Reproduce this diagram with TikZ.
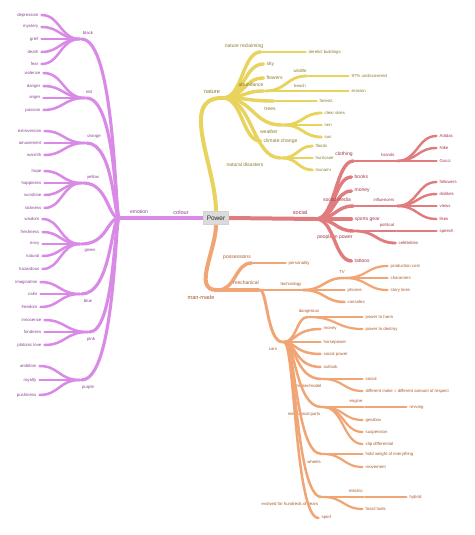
\documentclass[tikz,border=0pt]{standalone}
\usepackage{fontspec}
\setmainfont{Liberation Sans}
\usepackage{tikz}
\usetikzlibrary{calc}
\usepackage{xcolor}
\definecolor{emocol}{HTML}{D98AE6}
\definecolor{emotxt}{HTML}{8A4096}
\definecolor{natcol}{HTML}{E8D35C}
\definecolor{nattxt}{HTML}{8C7B2C}
\definecolor{soccol}{HTML}{E07C7E}
\definecolor{soctxt}{HTML}{A33A4A}
\definecolor{mancol}{HTML}{F1A574}
\definecolor{mantxt}{HTML}{A85B2E}

\begin{document}
\begin{tikzpicture}[x=1pt,y=-1pt,line cap=round,
  br/.style={to path={let \p1=(\tikztostart),\p2=(\tikztotarget) in
    .. controls ({\x1+#1*(\x2-\x1)},\y1) and ({\x1+#1*(\x2-\x1)},\y2) .. (\tikztotarget)}},
  br/.default=0.5,
  emoline/.style={draw=emocol,line width=#1,shorten >=1.5pt},
  natline/.style={draw=natcol,line width=#1,shorten >=1.5pt},
  socline/.style={draw=soccol,line width=#1,shorten >=1.5pt},
  manline/.style={draw=mancol,line width=#1,shorten >=1.5pt},
  etx/.style={text=emotxt}, ntx/.style={text=nattxt},
  stx/.style={text=soctxt}, mtx/.style={text=mantxt},
  toptxt/.style={inner sep=0.5pt,font=\fontsize{5.6}{6}\selectfont},
  bigtxt/.style={inner sep=0.5pt,font=\fontsize{5}{6}\selectfont},
  smtxt/.style={inner sep=0.5pt,font=\fontsize{4.3}{5}\selectfont},
  lfL/.style={anchor=east,inner sep=1.5pt},
  lfR/.style={anchor=west,inner sep=1.5pt}]
\path[fill=white,use as bounding box] (0,0) rectangle (474,535);

% root
\node[draw=gray!35,fill=gray!28,text=gray!30!black,font=\fontsize{6.5}{7}\selectfont,
  minimum width=25pt,minimum height=13pt,inner sep=1pt] (power) at (216,218) {Power};

% ---- colour / emotion
\coordinate (col) at (172,218);
\coordinate (emo) at (119,218);
\draw[emoline=4pt] (power.west) -- (col);
\draw[emoline=3.6pt] (col) -- (emo);
\node[toptxt,etx] (colourl) at (181,212) {colour};
\node[bigtxt,etx] (emotionl) at (139,212) {emotion};

\coordinate (blk) at (80,39);
\draw[emoline=3.1pt] (emo) to[br=0.1] (blk);
\node[smtxt,etx] (blkl) at (88,33) {black};
\node[smtxt,etx,lfL] (depression) at (40,15) {depression};
\node[smtxt,etx,lfL] (mystery) at (40,27) {mystery};
\node[smtxt,etx,lfL] (grief) at (40,39) {grief};
\node[smtxt,etx,lfL] (death) at (40,52) {death};
\node[smtxt,etx,lfL] (fear) at (40,64) {fear};
\draw[emoline=2.5pt] (blk) to[br] (depression.east);
\draw[emoline=2.5pt] (blk) to[br] (mystery.east);
\draw[emoline=2.5pt] (blk) -- (grief.east);
\draw[emoline=2.5pt] (blk) to[br] (death.east);
\draw[emoline=2.5pt] (blk) to[br] (fear.east);

\coordinate (rd) at (85,98);
\draw[emoline=3.1pt] (emo) to[br=0.1] (rd);
\node[smtxt,etx] (rdl) at (89,92) {red};
\node[smtxt,etx,lfL] (violence) at (42,73) {violence};
\node[smtxt,etx,lfL] (danger) at (42,86) {danger};
\node[smtxt,etx,lfL] (anger) at (42,98) {anger};
\node[smtxt,etx,lfL] (passion) at (42,110) {passion};
\draw[emoline=2.5pt] (rd) to[br] (violence.east);
\draw[emoline=2.5pt] (rd) to[br] (danger.east);
\draw[emoline=2.5pt] (rd) -- (anger.east);
\draw[emoline=2.5pt] (rd) to[br] (passion.east);

\coordinate (org) at (85,143);
\draw[emoline=3.1pt] (emo) to[br=0.15] (org);
\node[smtxt,etx] (orgl) at (94,137) {orange};
\node[smtxt,etx,lfL] (extroversion) at (43,131) {extroversion};
\node[smtxt,etx,lfL] (amusement) at (43,143) {amusement};
\node[smtxt,etx,lfL] (warmth) at (43,155) {warmth};
\draw[emoline=2.5pt] (org) to[br] (extroversion.east);
\draw[emoline=2.5pt] (org) -- (amusement.east);
\draw[emoline=2.5pt] (org) to[br] (warmth.east);

\coordinate (ylw) at (82,183);
\draw[emoline=3.1pt] (emo) to[br=0.3] (ylw);
\node[smtxt,etx] (ylwl) at (93,177) {yellow};
\node[smtxt,etx,lfL] (hope) at (43,171) {hope};
\node[smtxt,etx,lfL] (happiness) at (43,183) {happiness};
\node[smtxt,etx,lfL] (sunshine) at (43,195) {sunshine};
\node[smtxt,etx,lfL] (sickness) at (43,208) {sickness};
\draw[emoline=2.5pt] (ylw) to[br] (hope.east);
\draw[emoline=2.5pt] (ylw) -- (happiness.east);
\draw[emoline=2.5pt] (ylw) to[br] (sunshine.east);
\draw[emoline=2.5pt] (ylw) to[br] (sickness.east);

\coordinate (grn) at (80,244);
\draw[emoline=3.1pt] (emo) to[br=0.3] (grn);
\node[smtxt,etx] (grnl) at (90,251) {green};
\node[smtxt,etx,lfL] (wisdom) at (41,219) {wisdom};
\node[smtxt,etx,lfL] (freshness) at (41,232) {freshness};
\node[smtxt,etx,lfL] (envy) at (41,244) {envy};
\node[smtxt,etx,lfL] (natural) at (41,256) {natural};
\node[smtxt,etx,lfL] (hazardous) at (41,269) {hazardous};
\draw[emoline=2.5pt] (grn) to[br] (wisdom.east);
\draw[emoline=2.5pt] (grn) to[br] (freshness.east);
\draw[emoline=2.5pt] (grn) -- (envy.east);
\draw[emoline=2.5pt] (grn) to[br] (natural.east);
\draw[emoline=2.5pt] (grn) to[br] (hazardous.east);

\coordinate (blu) at (80,294);
\draw[emoline=3.1pt] (emo) to[br=0.2] (blu);
\node[smtxt,etx] (blul) at (88,301) {blue};
\node[smtxt,etx,lfL] (imagination) at (39,282) {imagination};
\node[smtxt,etx,lfL] (calm) at (39,294) {calm};
\node[smtxt,etx,lfL] (freedom) at (39,307) {freedom};
\draw[emoline=2.5pt] (blu) to[br] (imagination.east);
\draw[emoline=2.5pt] (blu) -- (calm.east);
\draw[emoline=2.5pt] (blu) to[br] (freedom.east);

\coordinate (pnk) at (88,332);
\draw[emoline=3.1pt] (emo) to[br=0.15] (pnk);
\node[smtxt,etx] (pnkl) at (91,339) {pink};
\node[smtxt,etx,lfL] (innocence) at (43,320) {innocence};
\node[smtxt,etx,lfL] (fondness) at (43,332) {fondness};
\node[smtxt,etx,lfL] (platonic) at (43,345) {platonic love};
\draw[emoline=2.5pt] (pnk) to[br] (innocence.east);
\draw[emoline=2.5pt] (pnk) -- (fondness.east);
\draw[emoline=2.5pt] (pnk) to[br] (platonic.east);

\coordinate (prp) at (80,380);
\draw[emoline=3.1pt] (emo) to[br=0.1] (prp);
\node[smtxt,etx] (prpl) at (88,387) {purple};
\node[smtxt,etx,lfL] (ambition) at (38,366) {ambition};
\node[smtxt,etx,lfL] (royalty) at (38,380) {royalty};
\node[smtxt,etx,lfL] (pushiness) at (38,395) {pushiness};
\draw[emoline=2.5pt] (prp) to[br] (ambition.east);
\draw[emoline=2.5pt] (prp) -- (royalty.east);
\draw[emoline=2.5pt] (prp) to[br] (pushiness.east);

% ---- nature
\coordinate (nat) at (223,98);
\draw[natline=4pt] (power.north) to[out=90,in=180] (nat);
\node[toptxt,ntx] (naturel) at (212,92) {nature};

\coordinate (natrec) at (262,52);
\draw[natline=3.4pt] (nat) to[br] (natrec);
\node[bigtxt,ntx] (natrecl) at (244,46) {nature reclaiming};
\node[smtxt,ntx,lfR] (derelict) at (307,52) {derelict buildings};
\draw[natline=2.8pt] (natrec) -- (derelict.west);

\node[bigtxt,ntx,lfR] (sky) at (265,64) {sky};
\node[bigtxt,ntx,lfR] (flowers) at (265,78) {flowers};
\draw[natline=3.4pt] (nat) to[br] (sky.west);
\draw[natline=3.4pt] (nat) to[br] (flowers.west);

\coordinate (abund) at (265,91);
\draw[natline=3.4pt] (nat) to[br] (abund);
\node[bigtxt,ntx] (abundl) at (251,85) {abundance};
\coordinate (wild) at (308,76);
\coordinate (beach) at (308,91);
\draw[natline=2.8pt] (abund) to[br] (wild);
\draw[natline=2.8pt] (abund) -- (beach);
\node[smtxt,ntx] (wildl) at (300,71) {wildlife};
\node[smtxt,ntx] (beachl) at (300,86) {beach};
\node[smtxt,ntx,lfR] (undisc) at (350,76) {97\% undiscovered};
\node[smtxt,ntx,lfR] (erosion) at (350,91) {erosion};
\draw[natline=2.4pt] (wild) -- (undisc.west);
\draw[natline=2.4pt] (beach) -- (erosion.west);

\coordinate (trees) at (275,101);
\draw[natline=3.4pt] (nat) to[br] (trees);
\node[bigtxt,ntx] (treesl) at (270,109) {trees};
\node[smtxt,ntx,lfR] (forests) at (318,101) {forests};
\draw[natline=2.8pt] (trees) -- (forests.west);

\coordinate (weath) at (283,125);
\draw[natline=3.4pt] (nat) to[br] (weath);
\node[bigtxt,ntx] (weathl) at (269,132) {weather};
\node[smtxt,ntx,lfR] (clearskies) at (323,113) {clear skies};
\node[smtxt,ntx,lfR] (rain) at (323,125) {rain};
\node[smtxt,ntx,lfR] (sun) at (323,137) {sun};
\draw[natline=2.8pt] (weath) to[br] (clearskies.west);
\draw[natline=2.8pt] (weath) -- (rain.west);
\draw[natline=2.8pt] (weath) to[br] (sun.west);

\node[bigtxt,ntx,lfR] (climate) at (262,141) {climate change};
\draw[natline=3.4pt] (nat) to[br] (climate.west);

\coordinate (natdis) at (282,158);
\draw[natline=3.4pt] (nat) to[br] (natdis);
\node[bigtxt,ntx] (natdisl) at (245,165) {natural disasters};
\node[smtxt,ntx,lfR] (floods) at (314,146) {floods};
\node[smtxt,ntx,lfR] (hurricane) at (314,158) {hurricane};
\node[smtxt,ntx,lfR] (tsunami) at (314,170) {tsunami};
\draw[natline=2.8pt] (natdis) to[br] (floods.west);
\draw[natline=2.8pt] (natdis) -- (hurricane.west);
\draw[natline=2.8pt] (natdis) to[br] (tsunami.west);

% ---- social
\coordinate (soc) at (316,219);
\draw[socline=4pt] (power.east) -- (soc);
\node[toptxt,stx] (sociall) at (300,212) {social};

\coordinate (cloth) at (355,161);
\draw[socline=3.4pt] (soc) to[br] (cloth);
\node[bigtxt,stx] (clothl) at (344,154) {clothing};
\coordinate (brands) at (397,161);
\draw[socline=2.8pt] (cloth) -- (brands);
\node[smtxt,stx] (brandsl) at (388,155) {brands};
\node[smtxt,stx,lfR] (adidas) at (438,136) {Adidas};
\node[smtxt,stx,lfR] (nike) at (438,148) {Nike};
\node[smtxt,stx,lfR] (gucci) at (438,161) {Gucci};
\draw[socline=2.4pt] (brands) to[br] (adidas.west);
\draw[socline=2.4pt] (brands) to[br] (nike.west);
\draw[socline=2.4pt] (brands) -- (gucci.west);

\node[bigtxt,stx,lfR] (books) at (353,177) {books};
\node[bigtxt,stx,lfR] (money) at (353,191) {money};
\draw[socline=3.4pt] (soc) to[br] (books.west);
\draw[socline=3.4pt] (soc) to[br] (money.west);

\coordinate (socmed) at (355,206);
\draw[socline=3.4pt] (soc) to[br] (socmed);
\node[bigtxt,stx] (socmedl) at (337,200) {social media};
\coordinate (infl) at (397,206);
\draw[socline=2.8pt] (socmed) -- (infl);
\node[smtxt,stx] (infll) at (384,200) {influencers};
\node[smtxt,stx,lfR] (followers) at (438,182) {followers};
\node[smtxt,stx,lfR] (dislikes) at (438,194) {dislikes};
\node[smtxt,stx,lfR] (views) at (438,206) {views};
\node[smtxt,stx,lfR] (likes) at (438,219) {likes};
\draw[socline=2.4pt] (infl) to[br] (followers.west);
\draw[socline=2.4pt] (infl) to[br] (dislikes.west);
\draw[socline=2.4pt] (infl) -- (views.west);
\draw[socline=2.4pt] (infl) to[br] (likes.west);

\node[bigtxt,stx,lfR] (sportsgear) at (353,219) {sports gear};
\draw[socline=3.4pt] (soc) -- (sportsgear.west);

\coordinate (pip) at (355,231);
\draw[socline=3.4pt] (soc) to[br] (pip);
\node[bigtxt,stx] (pipl) at (335,237) {people in power};
\coordinate (polit) at (397,231);
\draw[socline=2.8pt] (pip) -- (polit);
\node[smtxt,stx] (politl) at (387,225) {political};
\node[smtxt,stx,lfR] (speech) at (438,231) {speech};
\draw[socline=2.4pt] (polit) -- (speech.west);
\node[smtxt,stx,lfR] (celebs) at (397,243) {celebrities};
\draw[socline=2.8pt] (pip) to[br] (celebs.west);

\node[bigtxt,stx,lfR] (tattoos) at (353,261) {tattoos};
\draw[socline=3.4pt] (soc) to[br] (tattoos.west);

% ---- man-made
\coordinate (mm) at (218,290);
\draw[manline=4pt] (power.south) to[out=-90,in=180] (mm);
\node[toptxt,mtx] (mml) at (201,297) {man-made};

\coordinate (poss) at (253,263);
\draw[manline=3.4pt] (mm) to[br] (poss);
\node[bigtxt,mtx] (possl) at (237,257) {possessions};
\node[smtxt,mtx,lfR] (personality) at (287,263) {personality};
\draw[manline=2.8pt] (poss) -- (personality.west);

\coordinate (mech) at (260,290);
\draw[manline=3.4pt] (mm) -- (mech);
\node[bigtxt,mtx] (mechl) at (246,283) {mechanical};

\coordinate (tech) at (303,290);
\draw[manline=2.9pt] (mech) -- (tech);
\node[smtxt,mtx] (techl) at (291,284) {technology};
\coordinate (tv) at (345,278);
\draw[manline=2.5pt] (tech) to[br] (tv);
\node[smtxt,mtx] (tvl) at (342,272) {TV};
\node[smtxt,mtx,lfR] (prodcost) at (389,266) {production cost};
\node[smtxt,mtx,lfR] (characters) at (389,278) {characters};
\node[smtxt,mtx,lfR] (storylines) at (389,290) {story lines};
\draw[manline=2.2pt] (tv) to[br] (prodcost.west);
\draw[manline=2.2pt] (tv) -- (characters.west);
\draw[manline=2.2pt] (tv) to[br] (storylines.west);
\node[smtxt,mtx,lfR] (phones) at (346,290) {phones};
\node[smtxt,mtx,lfR] (consoles) at (346,302) {consoles};
\draw[manline=2.5pt] (tech) -- (phones.west);
\draw[manline=2.5pt] (tech) to[br] (consoles.west);

\coordinate (cars) at (284,342);
\draw[manline=2.9pt] (mech) to[br=0.3] (cars);
\node[smtxt,mtx] (carsl) at (273,349) {cars};

\coordinate (dang) at (309,317);
\draw[manline=2.5pt] (cars) to[br] (dang);
\node[smtxt,mtx] (dangl) at (309,311) {dangerous};
\node[smtxt,mtx,lfR] (harm) at (364,317) {power to harm};
\node[smtxt,mtx,lfR] (destroy) at (364,329) {power to destroy};
\draw[manline=2.2pt] (dang) -- (harm.west);
\draw[manline=2.2pt] (dang) to[br] (destroy.west);

\node[smtxt,mtx,lfR] (cmoney) at (322,329) {money};
\node[smtxt,mtx,lfR] (horsepower) at (322,342) {horsepower};
\node[smtxt,mtx,lfR] (socpower) at (322,354) {social power};
\node[smtxt,mtx,lfR] (outlook) at (322,367) {outlook};
\draw[manline=2.5pt] (cars) to[br=0.3] (cmoney.west);
\draw[manline=2.5pt] (cars) -- (horsepower.west);
\draw[manline=2.5pt] (cars) to[br=0.3] (socpower.west);
\draw[manline=2.5pt] (cars) to[br=0.3] (outlook.west);

\coordinate (mkmd) at (323,379);
\draw[manline=2.5pt] (cars) to[br=0.3] (mkmd);
\node[smtxt,mtx] (mkmdl) at (309,386) {maker/model};
\node[smtxt,mtx,lfR] (csocial) at (364,379) {social};
\node[smtxt,mtx,lfR] (respect) at (364,391) {different make = different amount of respect};
\draw[manline=2.2pt] (mkmd) -- (csocial.west);
\draw[manline=2.2pt] (mkmd) to[br] (respect.west);

\coordinate (mparts) at (323,407);
\draw[manline=2.5pt] (cars) to[br=0.3] (mparts);
\node[smtxt,mtx] (mpartsl) at (304,414) {mechanical parts};
\coordinate (eng) at (365,407);
\draw[manline=2.2pt] (mparts) -- (eng);
\node[smtxt,mtx] (engl) at (356,401) {engine};
\node[smtxt,mtx,lfR] (revving) at (408,407) {revving};
\draw[manline=2pt] (eng) -- (revving.west);
\node[smtxt,mtx,lfR] (gearbox) at (364,420) {gearbox};
\node[smtxt,mtx,lfR] (suspension) at (364,432) {suspension};
\node[smtxt,mtx,lfR] (slipdiff) at (364,444) {slip differential};
\draw[manline=2.2pt] (mparts) to[br] (gearbox.west);
\draw[manline=2.2pt] (mparts) to[br] (suspension.west);
\draw[manline=2.2pt] (mparts) to[br] (slipdiff.west);

\coordinate (whl) at (323,454);
\draw[manline=2.5pt] (cars) to[br=0.3] (whl);
\node[smtxt,mtx] (whll) at (314,462) {wheels};
\node[smtxt,mtx,lfR] (weight) at (364,454) {hold weight of everything};
\node[smtxt,mtx,lfR] (movement) at (364,467) {movement};
\draw[manline=2.2pt] (whl) -- (weight.west);
\draw[manline=2.2pt] (whl) to[br] (movement.west);

\coordinate (evo) at (323,497);
\draw[manline=2.5pt] (cars) to[br=0.3] (evo);
\node[smtxt,mtx] (evol) at (290,504) {evolved for hundreds of years};
\coordinate (elec) at (365,497);
\draw[manline=2.2pt] (evo) -- (elec);
\node[smtxt,mtx] (elecl) at (356,491) {electric};
\node[smtxt,mtx,lfR] (hybrid) at (408,497) {hybrid};
\draw[manline=2pt] (elec) -- (hybrid.west);
\node[smtxt,mtx,lfR] (fossil) at (364,509) {fossil fuels};
\draw[manline=2.2pt] (evo) to[br] (fossil.west);

\node[smtxt,mtx,lfR] (sport) at (320,518) {sport};
\draw[manline=2.5pt] (cars) to[br=0.3] (sport.west);

% root on top
\node[draw=gray!35,fill=gray!28,text=gray!30!black,font=\fontsize{6.5}{7}\selectfont,
  minimum width=25pt,minimum height=13pt,inner sep=1pt] at (power) {Power};
\end{tikzpicture}
\end{document}
